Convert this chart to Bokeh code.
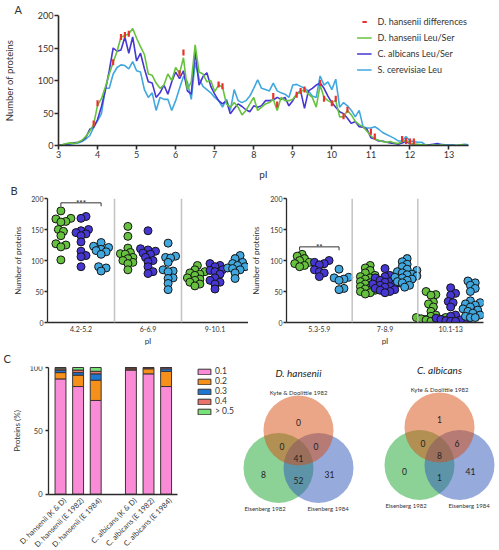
import numpy as np
from bokeh.plotting import figure
from bokeh.layouts import column, row
from bokeh.models import (Range1d, FixedTicker, Legend, LegendItem, Label,
                          Span, ColumnDataSource)
from bokeh.core.properties import value
from bokeh.embed import file_html
from bokeh.resources import INLINE

FONT = "Lato"
INK = "#2b2b2b"
GREEN, PURPLE, LBLUE, RED = "#66c23e", "#4636d2", "#41a7df", "#e8322f"
SPECIES_COLORS = [GREEN, PURPLE, LBLUE]

# ---- A: number of proteins per pI bin (bins of 0.1 from 3.0 to 13.5)
PI_BINS = [round(3 + i / 10, 1) for i in range(106)]
DH_LEU_SER = [0, 1, 3, 4, 3, 5, 8, 14, 22, 32,
              62, 72, 90, 110, 128, 145, 167, 169, 172, 180,
              165, 152, 140, 110, 108, 96, 88, 93, 110, 100,
              120, 111, 135, 86, 98, 155, 113, 110, 98, 100,
              83, 93, 90, 64, 59, 66, 59, 47, 54, 64,
              74, 54, 59, 64, 66, 71, 54, 74, 69, 69,
              71, 79, 83, 86, 79, 74, 59, 93, 74, 69,
              66, 69, 44, 44, 54, 47, 37, 32, 29, 22,
              15, 10, 8, 6, 5, 6, 4, 3, 6, 8,
              4, 2, 2, 1, 1, 0, 1, 0, 1, 0,
              0, 0, 0, 1, 0, 0]
CA_LEU_SER = [0, 1, 2, 3, 4, 5, 7, 12, 25, 28,
              40, 60, 85, 115, 150, 145, 147, 167, 142, 167,
              130, 142, 118, 98, 96, 74, 81, 93, 79, 98,
              113, 103, 115, 84, 79, 145, 93, 106, 112, 91,
              79, 69, 64, 69, 49, 57, 64, 60, 55, 52,
              61, 59, 61, 69, 69, 70, 74, 71, 74, 61,
              69, 79, 84, 57, 84, 88, 93, 96, 88, 76,
              66, 59, 52, 49, 42, 34, 37, 29, 28, 25,
              12, 10, 7, 7, 5, 4, 3, 2, 4, 6,
              3, 2, 1, 1, 0, 1, 2, 3, 1, 0,
              0, 0, 0, 0, 0, 0]
SC_LEU = [0, 1, 2, 2, 3, 4, 6, 10, 15, 28,
          38, 49, 88, 88, 110, 120, 124, 123, 118, 129,
          115, 113, 86, 74, 81, 54, 74, 71, 71, 54,
          69, 88, 106, 98, 71, 128, 103, 91, 86, 81,
          74, 69, 59, 71, 54, 86, 69, 66, 69, 76,
          88, 101, 88, 86, 84, 96, 84, 81, 79, 74,
          93, 94, 91, 88, 84, 76, 74, 107, 93, 98,
          86, 102, 59, 66, 61, 54, 44, 54, 29, 27,
          27, 29, 25, 20, 17, 14, 11, 7, 7, 14,
          7, 6, 5, 5, 1, 1, 1, 2, 2, 1,
          1, 1, 0, 1, 2, 1]
DIFF_PI = [3.9, 4.0, 4.4, 4.6, 4.7, 4.8, 6.1, 6.2, 7.1, 7.2, 8.5, 8.6, 9.1, 9.2,
           9.3, 9.7, 9.8, 10.0, 10.1, 10.3, 10.4, 11.0, 11.1, 11.8, 11.9, 12.0, 12.1]
DIFF_N = [34, 65, 128, 167, 170, 172, 111, 143, 94, 91, 76, 63, 78, 84,
          86, 96, 72, 65, 72, 45, 55, 21, 14, 10, 7, 6, 6]

# ---- B: proteins per sample, grouped by pI window
BL_CATS = ["4.2-5.2", "6-6.9", "9-10.1"]
BL_DH = [[180, 168, 167, 163, 162, 150, 147, 140, 127, 125, 122, 101],
         [155, 139, 120, 113, 111, 110, 105, 103, 100, 97, 95, 85],
         [92, 85, 82, 80, 78, 76, 72, 70, 68, 65, 62, 59]]
BL_CA = [[171, 168, 150, 148, 145, 143, 140, 130, 115, 108, 106, 90],
         [148, 119, 117, 115, 112, 110, 105, 100, 98, 90, 82, 79],
         [95, 92, 90, 85, 84, 82, 78, 72, 68, 65, 62, 54]]
BL_SC = [[129, 123, 121, 118, 116, 114, 110, 90, 88, 83],
         [128, 107, 105, 104, 97, 85, 83, 82, 72, 71, 63, 53],
         [108, 103, 97, 95, 92, 90, 88, 87, 85, 80, 71]]
BR_CATS = ["5.3-5.9", "7-8.9", "10.1-13"]
BR_DH = [[110, 107, 103, 100, 97, 95, 92, 90],
         [92, 88, 84, 80, 76, 74, 72, 70, 68, 66, 64, 62, 60, 58, 56, 54, 52, 50, 48, 46],
         [50, 45, 44, 33, 30, 25, 18, 12, 10, 8, 8, 6, 5, 4, 3, 2]]
BR_CA = [[100, 97, 95, 93, 85, 82, 80, 74],
         [87, 76, 74, 72, 70, 68, 66, 65, 64, 62, 61, 60, 58, 57, 55, 53, 52, 50, 48],
         [56, 47, 44, 34, 32, 25, 12, 10, 8, 7, 6, 5, 4, 3, 2, 2]]
BR_SC = [[86, 73, 72, 70, 68, 55, 53],
         [103, 98, 94, 90, 86, 84, 82, 80, 78, 77, 75, 73, 72, 70, 68, 66, 64, 60, 57],
         [67, 64, 60, 55, 50, 35, 32, 30, 28, 25, 22, 20, 18, 15, 12, 10, 8, 8]]

# ---- C: share of proteins (%) per hydrophobicity difference class
BAR_NAMES = ["D. hansenii (K & D)", "D. hansenii (E 1982)", "D. hansenii (E 1984)",
             "C. albicans (K & D)", "C. albicans (E 1982)", "C. albicans (E 1984)"]
CLASS_NAMES = ["0.1", "0.2", "0.3", "0.4", "> 0.5"]
P01 = [91, 85, 74, 98, 95, 85]
P02 = [5, 9, 16, 1, 4, 12]
P03 = [2, 2, 5, 0, 0.5, 2]
P04 = [1, 2, 2, 1, 0.5, 1]
P05 = [1, 2, 3, 0, 0, 0]
CLASS_COLORS = ["#fa8cd7", "#f5911a", "#1e78d2", "#eb736e", "#78e178"]

# ---- C: Venn counts, regions: KD, E82, E84, KD&E82, KD&E84, E82&E84, all
VENN_SETS = ["Kyte & Doolittle 1982", "Eisenberg 1982", "Eisenberg 1984"]
DH_VENN = [0, 8, 31, 0, 0, 52, 41]
CA_VENN = [1, 0, 41, 0, 6, 1, 8]


def style(p, tick_px, label_px, lw=1.3):
    p.grid.visible = False
    p.outline_line_color = None
    for ax in p.axis:
        ax.axis_line_width = lw
        ax.axis_line_color = INK
        ax.major_tick_line_width = lw
        ax.major_tick_line_color = INK
        ax.minor_tick_line_color = None
        ax.major_tick_in = 0
        ax.major_tick_out = 3
        ax.major_label_standoff = 1
        ax.major_label_text_font = FONT
        ax.major_label_text_font_size = tick_px
        ax.major_label_text_color = "#333333"
        ax.axis_label_text_font = FONT
        ax.axis_label_text_font_size = label_px
        ax.axis_label_text_font_style = "normal"
        ax.axis_label_text_color = "#333333"


def panel_letter(p, text, offset, valign="bottom"):
    p.title.text = text
    p.title.align = "left"
    p.title.offset = offset
    p.title.standoff = 0
    p.title.vertical_align = valign
    p.title.text_font = FONT
    p.title.text_font_size = "11px"
    p.title.text_font_style = "normal"
    p.title.text_color = "#333333"


# ================= A
pa = figure(width=499, height=182, x_range=Range1d(3, 13.5), y_range=Range1d(0, 200),
            output_backend="svg", toolbar_location=None,
            min_border_left=55, min_border_right=31, min_border_top=11, min_border_bottom=35)
style(pa, "9px", "9.5px", 1.6)
panel_letter(pa, "A", -44)
pa.xaxis.ticker = FixedTicker(ticks=list(range(3, 14)))
pa.yaxis.ticker = FixedTicker(ticks=[0, 50, 100, 150, 200])
pa.xaxis.major_tick_out = 4
pa.yaxis.major_tick_out = 4
pa.xaxis.axis_label = "pI"
pa.yaxis.axis_label = "Number of proteins"
pa.xaxis.axis_label_standoff = 7
pa.yaxis.axis_label_standoff = 20
pa.xaxis.axis_label_text_font_size = "10px"

r_sc = pa.line(PI_BINS, SC_LEU, line_color=LBLUE, line_width=1.6)
r_ca = pa.line(PI_BINS, CA_LEU_SER, line_color=PURPLE, line_width=1.6)
r_dh = pa.line(PI_BINS, DH_LEU_SER, line_color=GREEN, line_width=1.6)
r_diff = pa.scatter(DIFF_PI, DIFF_N, marker="dash", angle=np.pi / 2, size=6,
                    line_color=RED, line_width=2.2)

leg_a = Legend(items=[LegendItem(label="D. hansenii differences", renderers=[r_diff]),
                      LegendItem(label="D. hansenii Leu/Ser", renderers=[r_dh]),
                      LegendItem(label="C. albicans Leu/Ser", renderers=[r_ca]),
                      LegendItem(label="S. cerevisiae Leu", renderers=[r_sc])],
               location="top_right", padding=0, margin=1, spacing=5,
               glyph_width=15, glyph_height=11, label_height=11, label_standoff=6,
               border_line_color=None, background_fill_alpha=0,
               label_text_font=FONT, label_text_font_size="9px", label_text_color="#333333")
pa.add_layout(leg_a)


# ================= B
OFFSETS = [-0.3, 0.0, 0.3]


def swarm_x(vals, xc, ppx, ppy, sep=5.0):
    # simple beeswarm: push each dot sideways until it is sep px from the others
    placed, out = [], [0.0] * len(vals)
    steps = [0.0] + [s * k * sep / 2 for k in range(1, 30) for s in (1, -1)]
    for i in sorted(range(len(vals)), key=lambda j: vals[j]):
        y = vals[i] * ppy
        for off in steps:
            if all((off - px) ** 2 + (y - py) ** 2 >= sep ** 2 for px, py in placed):
                break
        placed.append((off, y))
        out[i] = xc + off / ppx
    return out


def swarm_panel(cats, groups, width, left, right, sig, sig_y, ylabel_standoff):
    top, bottom, height = 16, 24, 166
    p = figure(width=width, height=height, x_range=Range1d(-0.5, 2.5), y_range=Range1d(0, 200),
               output_backend="svg", toolbar_location=None, title_location=None,
               min_border_left=left, min_border_right=right, min_border_top=top,
               min_border_bottom=bottom)
    style(p, "7px", "8px", 1.3)
    p.xaxis.ticker = FixedTicker(ticks=[0, 1, 2])
    p.xaxis.major_label_overrides = {i: c for i, c in enumerate(cats)}
    p.xaxis.major_tick_out = 0
    p.xaxis.major_label_standoff = 3
    p.xaxis.axis_label = "pI"
    p.xaxis.axis_label_standoff = 1
    p.yaxis.ticker = FixedTicker(ticks=[0, 50, 100, 150, 200])
    p.yaxis.axis_label = "Number of proteins"
    p.yaxis.axis_label_standoff = ylabel_standoff
    p.yaxis.major_label_standoff = 1
    for loc in (0.5, 1.5):
        p.add_layout(Span(location=loc, dimension="height", line_color="#c4c4c4", line_width=1.5))
    ppx = (width - left - right) / 3
    ppy = (height - top - bottom) / 200
    for series, col, off in zip(groups, SPECIES_COLORS, OFFSETS):
        for gi, vals in enumerate(series):
            xc = gi + off
            p.scatter([xc], [float(np.median(vals))], marker="dash", size=14,
                      line_color="#222222", line_width=1)
            p.scatter(swarm_x(vals, xc, ppx, ppy), vals, size=8, fill_color=col,
                      line_color="#151515", line_width=1)
    x0, x1 = OFFSETS[0], OFFSETS[2]
    p.line([x0, x0, x1, x1], [sig_y - 5.5, sig_y, sig_y, sig_y - 5.5], line_color="#333333", line_width=1)
    p.add_layout(Label(x=0, y=sig_y, text=sig, text_font=FONT, text_font_size="8px",
                       text_align="center", text_baseline="alphabetic", text_color="#222222"))
    return p


pbl = swarm_panel(BL_CATS, [BL_DH, BL_CA, BL_SC], 248, 47, 0, "***", 193, 5)
pbl.title_location = "above"
panel_letter(pbl, "B", -37, "top")
pbr = swarm_panel(BR_CATS, [BR_DH, BR_CA, BR_SC], 251, 33, 16, "**", 122, 6)


# ================= C bars
# plots in one row share their frame, so every C plot uses top border 18 and none below;
# the bar axes sit inside the frame at fixed locations to leave room for the slanted names
ROW_C_H, ROW_C_TOP = 202, 18
BAR_X = [1, 2, 3, 5, 6, 7]
pc = figure(width=236, height=ROW_C_H, x_range=Range1d(-2.41, 11.0), y_range=Range1d(-44.4, 100.8),
            output_backend="svg", toolbar_location=None,
            min_border_left=0, min_border_right=0, min_border_top=ROW_C_TOP, min_border_bottom=0)
style(pc, "7.5px", "8px", 1.3)
panel_letter(pc, "C", 3, "top")
src_c = ColumnDataSource(dict(x=BAR_X, p1=P01, p2=P02, p3=P03, p4=P04, p5=P05))
stack = pc.vbar_stack(["p1", "p2", "p3", "p4", "p5"], x="x", width=0.62, source=src_c,
                      fill_color=CLASS_COLORS, line_color="#3b3333", line_width=1)
pc.yaxis.fixed_location = 0.32
pc.yaxis.bounds = (0, 100)
pc.yaxis.ticker = FixedTicker(ticks=[0, 50, 100])
pc.yaxis.axis_label = "Proteins (%)"
pc.yaxis.axis_label_standoff = 4
pc.yaxis.major_label_standoff = 3
pc.xaxis.fixed_location = 0
pc.xaxis.bounds = (0.32, 7.65)
pc.xaxis.ticker = FixedTicker(ticks=[])
pc.text([x + 0.25 for x in BAR_X], [-4] * len(BAR_X), text=BAR_NAMES, angle=np.pi / 4,
        text_align="right", text_baseline="middle", text_font=value(FONT),
        text_font_size="7.5px", text_color="#333333")
leg_c = Legend(items=[LegendItem(label=n, renderers=[r]) for n, r in zip(CLASS_NAMES, stack)],
               location=(196, 134), padding=0, margin=0, spacing=-3,
               glyph_width=16, glyph_height=7, label_height=7, label_standoff=3,
               border_line_color=None, background_fill_alpha=0,
               label_text_font=FONT, label_text_font_size="8.5px", label_text_color="#333333")
pc.add_layout(leg_c)


# ================= C Venn diagrams (1 data unit = 1 px, origin at the canvas bottom)
R = 35
CIRCLE_DX = [-20, 20, 0]          # drawn order: E82, E84, KD
CIRCLE_DY = [-37.5, -37.5, 0]
CIRCLE_COLORS = ["#19a52d", "#2d55b9", "#d74b0f"]
REGION_DX = [0, -35, 31, -16.5, 17.5, 0, 0]
REGION_DY = [8, -44, -44, -15.5, -15.5, -50, -27.5]


def venn_panel(title, counts, width, cx, cy):
    p = figure(width=width, height=ROW_C_H, x_range=Range1d(0, width),
               y_range=Range1d(0, ROW_C_H - ROW_C_TOP),
               x_axis_type=None, y_axis_type=None, output_backend="svg", toolbar_location=None,
               title_location=None, min_border_left=0, min_border_right=0,
               min_border_top=ROW_C_TOP, min_border_bottom=0)
    p.grid.visible = False
    p.outline_line_color = None
    p.circle([cx + d for d in CIRCLE_DX], [cy + d for d in CIRCLE_DY], radius=R,
             fill_color=CIRCLE_COLORS, fill_alpha=0.5, line_color=None)
    p.text([cx + d for d in REGION_DX], [cy + d for d in REGION_DY], text=[str(c) for c in counts],
           text_font=value(FONT), text_font_size="8.5px", text_align="center",
           text_baseline="middle", text_color="#222222")
    p.text([cx, cx - 33.5, cx + 29.5], [cy + 38.5, cy - 77.5, cy - 77.5], text=VENN_SETS,
           text_font=value(FONT), text_font_size="6px", text_align="center",
           text_baseline="middle", text_color="#333333")
    p.text([cx], [cy + 58], text=[title], text_font=value(FONT), text_font_size="10px",
           text_font_style="italic", text_align="center", text_baseline="middle",
           text_color="#222222")
    return p


pv1 = venn_panel("D. hansenii", DH_VENN, 134, 62, 120)
pv2 = venn_panel("C. albicans", CA_VENN, 129, 69, 123)

p = column(pa, row(pbl, pbr), row(pc, pv1, pv2))
open("out.html", "w").write(file_html(p, INLINE))
